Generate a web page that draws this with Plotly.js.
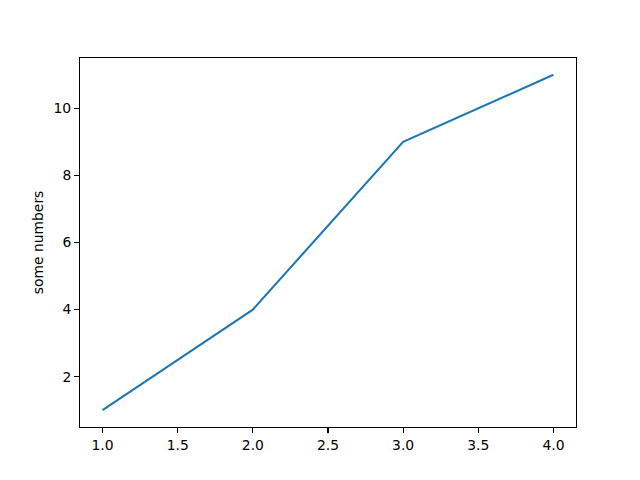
<!DOCTYPE html>
<html>
<head>
<meta charset="utf-8">
<script src="https://cdn.plot.ly/plotly-3.0.1.min.js"></script>
<style>html,body{margin:0;padding:0;background:#fff;}</style>
</head>
<body>
<div id="chart" style="width:640px;height:480px;"></div>
<script>
const xValues = [1, 2, 3, 4];
const yValues = [1, 4, 9, 11];
const yLabel = "some numbers";

const font = {family: "DejaVu Sans", size: 13.9, color: "#000"};
const axisCommon = {
  showgrid: false, zeroline: false, showline: true, mirror: true,
  linecolor: "#000", linewidth: 1.1, ticks: "outside", ticklen: 4.9,
  tickwidth: 1.1, tickcolor: "#000", tickfont: font
};
Plotly.newPlot("chart", [{
  x: xValues, y: yValues, type: "scatter", mode: "lines",
  line: {color: "#1f77b4", width: 2.08}
}], {
  width: 640, height: 480,
  margin: {l: 80, r: 64, t: 57.6, b: 52.8, pad: 0},
  paper_bgcolor: "#fff", plot_bgcolor: "#fff",
  font: font, showlegend: false,
  xaxis: Object.assign({}, axisCommon, {range: [0.85, 4.15], tickmode: "array",
    tickvals: [1, 1.5, 2, 2.5, 3, 3.5, 4], ticktext: ["1.0","1.5","2.0","2.5","3.0","3.5","4.0"]}),
  yaxis: Object.assign({}, axisCommon, {range: [0.5, 11.5], tickmode: "array",
    tickvals: [2, 4, 6, 8, 10], ticktext: ["2","4","6","8","10"],
    title: {text: yLabel, font: font, standoff: 6}})
}, {staticPlot: true});
</script>
</body>
</html>
